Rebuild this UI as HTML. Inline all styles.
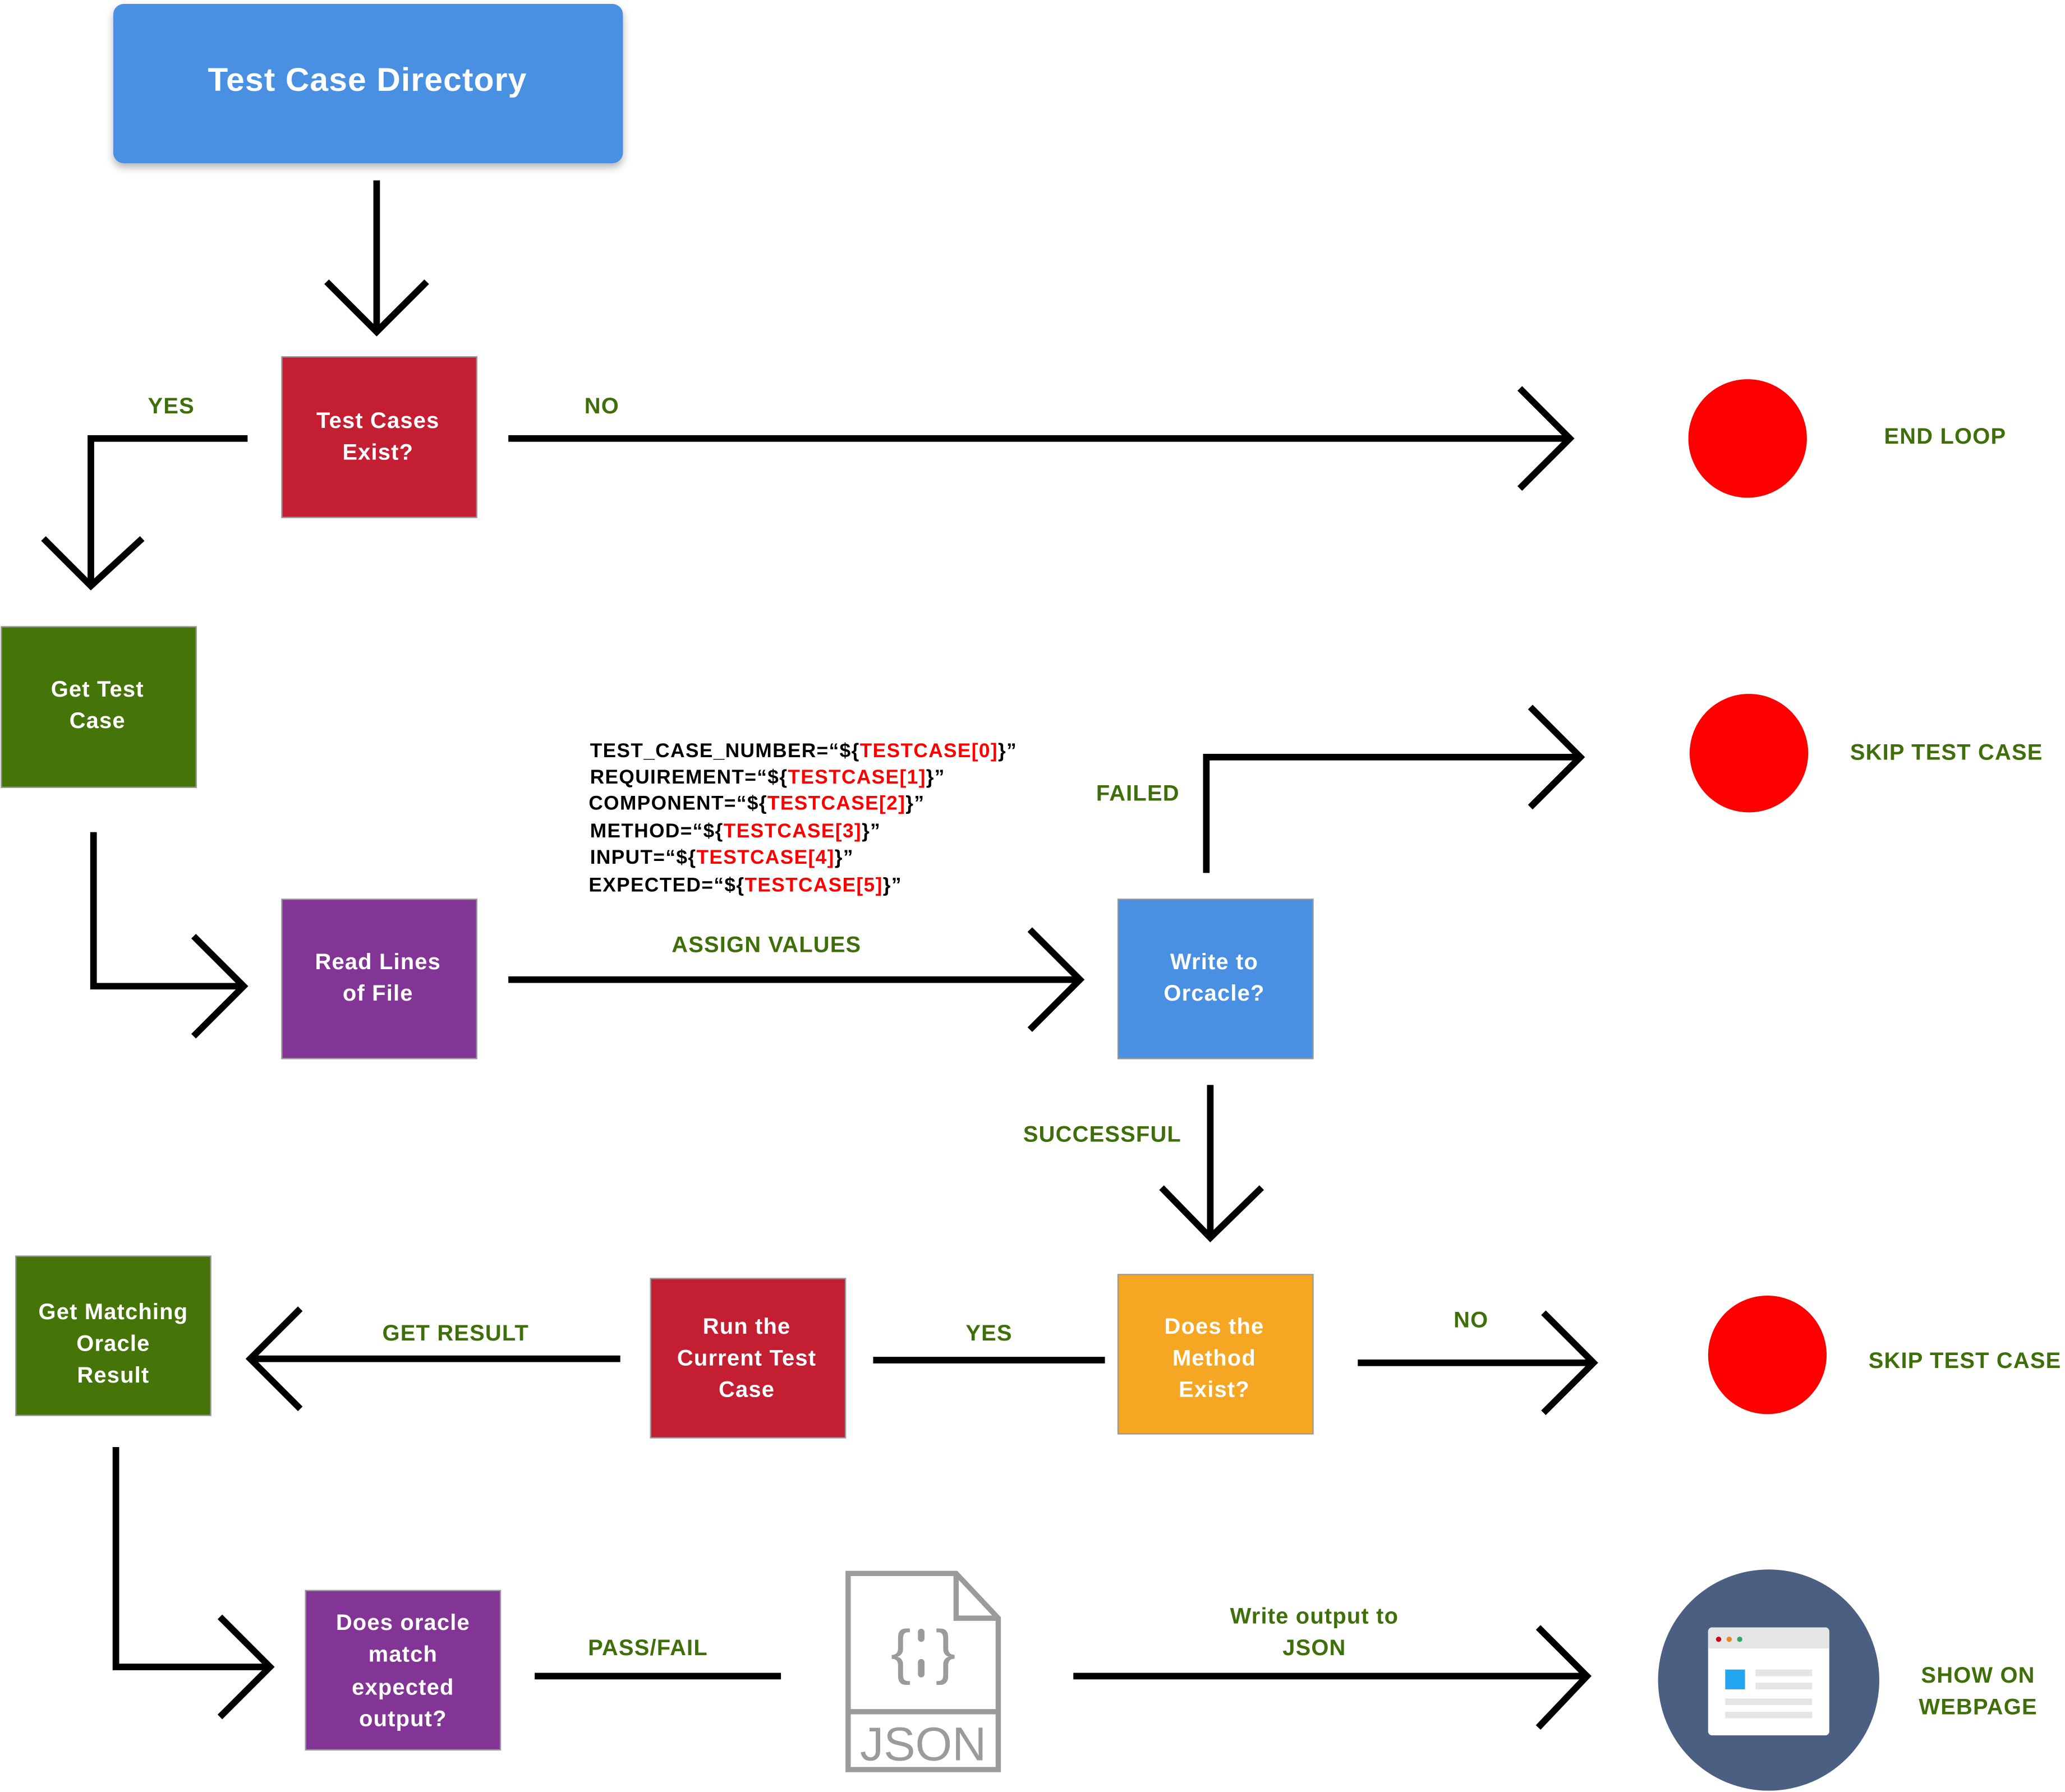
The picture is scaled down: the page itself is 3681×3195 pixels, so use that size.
<!DOCTYPE html>
<html><head><meta charset="utf-8"><style>
html,body{margin:0;padding:0;background:#fff;}
svg{display:block;}
text{font-family:"Liberation Sans",sans-serif;font-weight:bold;}
.w{fill:#fff;font-size:17px;text-anchor:middle;letter-spacing:0.5px;}
.g{fill:#3F6F0A;font-size:17px;text-anchor:middle;letter-spacing:0.5px;}
.c{font-size:15px;fill:#000;letter-spacing:0.6px;}
.r{fill:#FF0000;}
.ln{stroke:#000;stroke-width:5;fill:none;}
</style></head><body>
<svg width="3681" height="3195" viewBox="0 0 1568 1361" preserveAspectRatio="none" xmlns="http://www.w3.org/2000/svg">
<defs><filter id="sh" x="-10%" y="-10%" width="120%" height="130%"><feDropShadow dx="0" dy="3" stdDeviation="3" flood-color="#000" flood-opacity="0.3"/></filter></defs>
<rect x="86" y="3" width="387" height="121" rx="8" fill="#4A90E2" filter="url(#sh)"/>
<text x="279" y="69" class="w" style="font-size:25px">Test Case Directory</text>

<path class="ln" d="M286 137V252M248 214L286 252L324 214"/>

<rect x="214" y="271" width="148" height="122" fill="#C41E33" stroke="#999" stroke-width="1"/>
<text x="287" y="325" class="w">Test Cases</text><text x="287" y="349" class="w">Exist?</text>
<text x="130" y="314" class="g">YES</text>
<path class="ln" d="M188 333H69V445M33 409L69 445L108 409"/>
<text x="457" y="314" class="g">NO</text>
<path class="ln" d="M386 333H1190M1154 295L1192 333L1154 371"/>
<circle cx="1327" cy="333" r="45" fill="#FF0000"/>
<text x="1477" y="337" class="g">END LOOP</text>

<rect x="1" y="476" width="148" height="122" fill="#457508" stroke="#999" stroke-width="1"/>
<text x="74" y="529" class="w">Get Test</text><text x="74" y="553" class="w">Case</text>
<path class="ln" d="M71 632V749H185M147 711L185 749L147 787"/>

<rect x="214" y="683" width="148" height="121" fill="#823594" stroke="#999" stroke-width="1"/>
<text x="287" y="736" class="w">Read Lines</text><text x="287" y="760" class="w">of File</text>
<text x="582" y="723" class="g">ASSIGN VALUES</text>
<path class="ln" d="M386 744H820M782 706L820 744L782 782"/>

<text x="448" y="575" class="c">TEST_CASE_NUMBER=“${<tspan class="r">TESTCASE[0]</tspan>}”</text>
<text x="448" y="595" class="c">REQUIREMENT=“${<tspan class="r">TESTCASE[1]</tspan>}”</text>
<text x="447" y="615" class="c">COMPONENT=“${<tspan class="r">TESTCASE[2]</tspan>}”</text>
<text x="448" y="636" class="c">METHOD=“${<tspan class="r">TESTCASE[3]</tspan>}”</text>
<text x="448" y="656" class="c">INPUT=“${<tspan class="r">TESTCASE[4]</tspan>}”</text>
<text x="447" y="677" class="c">EXPECTED=“${<tspan class="r">TESTCASE[5]</tspan>}”</text>

<rect x="849" y="683" width="148" height="121" fill="#4A90E2" stroke="#999" stroke-width="1"/>
<text x="922" y="736" class="w">Write to</text><text x="922" y="760" class="w">Orcacle?</text>
<text x="864" y="608" class="g">FAILED</text>
<path class="ln" d="M916 663V575H1200M1162 537L1200 575L1162 613"/>
<circle cx="1328" cy="572" r="45" fill="#FF0000"/>
<text x="1478" y="577" class="g">SKIP TEST CASE</text>

<text x="837" y="867" class="g">SUCCESSFUL</text>
<path class="ln" d="M919 824V940M882 902L919 940L958 902"/>

<rect x="849" y="968" width="148" height="121" fill="#F5A623" stroke="#999" stroke-width="1"/>
<text x="922" y="1013" class="w">Does the</text><text x="922" y="1037" class="w">Method</text><text x="922" y="1061" class="w">Exist?</text>
<text x="1117" y="1008" class="g">NO</text>
<path class="ln" d="M1031 1035H1210M1172 997L1210 1035L1172 1073"/>
<circle cx="1342" cy="1029" r="45" fill="#FF0000"/>
<text x="1492" y="1039" class="g">SKIP TEST CASE</text>

<text x="751" y="1018" class="g">YES</text>
<path class="ln" d="M663 1033H839"/>
<rect x="494" y="971" width="148" height="121" fill="#C41E33" stroke="#999" stroke-width="1"/>
<text x="567" y="1013" class="w">Run the</text><text x="567" y="1037" class="w">Current Test</text><text x="567" y="1061" class="w">Case</text>
<text x="346" y="1018" class="g">GET RESULT</text>
<path class="ln" d="M471 1032H192M228 994L190 1032L228 1070"/>

<rect x="12" y="954" width="148" height="121" fill="#457508" stroke="#999" stroke-width="1"/>
<text x="86" y="1002" class="w">Get Matching</text><text x="86" y="1026" class="w">Oracle</text><text x="86" y="1050" class="w">Result</text>
<path class="ln" d="M88 1099V1266H205M167 1228L205 1266L167 1304"/>

<rect x="232" y="1208" width="148" height="121" fill="#823594" stroke="#999" stroke-width="1"/>
<text x="306" y="1238" class="w">Does oracle</text><text x="306" y="1262" class="w">match</text><text x="306" y="1287" class="w">expected</text><text x="306" y="1311" class="w">output?</text>
<text x="492" y="1257" class="g">PASS/FAIL</text>
<path class="ln" d="M406 1273H593"/>

<path d="M644 1195H726L758 1229V1344H644Z" fill="#fff" stroke="#9B9B9B" stroke-width="4"/>
<path d="M726 1195V1229H758" fill="none" stroke="#9B9B9B" stroke-width="4"/>
<line x1="644" y1="1300" x2="758" y2="1300" stroke="#9B9B9B" stroke-width="4"/>
<text x="684" y="1270" style="font-size:46px;fill:#9B9B9B;font-weight:normal" text-anchor="middle">{</text>
<text x="718" y="1270" style="font-size:46px;fill:#9B9B9B;font-weight:normal" text-anchor="middle">}</text>
<rect x="697" y="1237" width="5" height="10" rx="2.5" fill="#9B9B9B"/>
<rect x="697" y="1260" width="5" height="14" rx="2.5" fill="#9B9B9B"/>
<text x="701" y="1337" style="font-size:36px;fill:#9B9B9B;font-weight:normal" text-anchor="middle">JSON</text>

<text x="998" y="1233" class="g">Write output to</text><text x="998" y="1257" class="g">JSON</text>
<path class="ln" d="M815 1273H1205M1168 1236L1205 1273L1168 1312"/>

<circle cx="1343" cy="1276" r="84" fill="#4A5F82"/>
<rect x="1297" y="1236" width="92" height="82" rx="3" fill="#fff"/>
<path d="M1297 1252V1239a3 3 0 0 1 3-3H1386a3 3 0 0 1 3 3V1252Z" fill="#E5E5E5"/>
<circle cx="1305" cy="1245" r="2" fill="#D0021B"/><circle cx="1313" cy="1245" r="2" fill="#E8862A"/><circle cx="1321" cy="1245" r="2" fill="#2EAA5C"/>
<rect x="1310" y="1268" width="15" height="15" fill="#23A6F0"/>
<rect x="1333" y="1268" width="43" height="5" fill="#E5E5E5"/>
<rect x="1333" y="1278" width="43" height="5" fill="#E5E5E5"/>
<rect x="1310" y="1290" width="66" height="5" fill="#E5E5E5"/>
<rect x="1310" y="1300" width="66" height="5" fill="#E5E5E5"/>
<text x="1502" y="1278" class="g">SHOW ON</text><text x="1502" y="1302" class="g">WEBPAGE</text>
</svg>
</body></html>
